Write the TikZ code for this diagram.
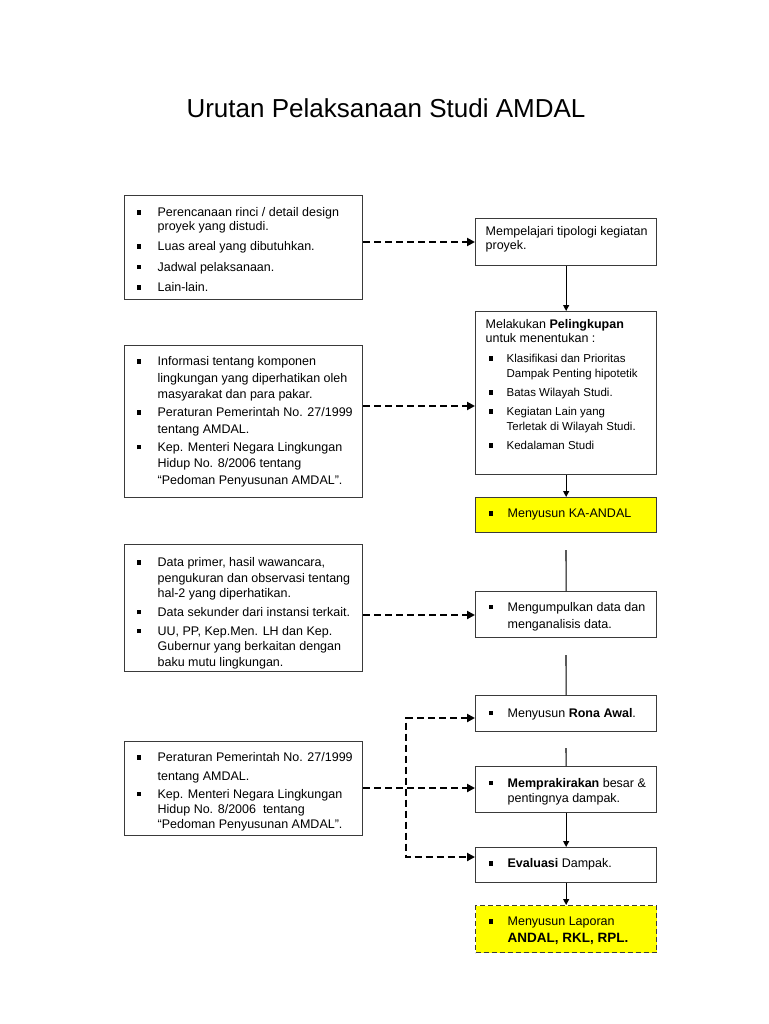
\documentclass[tikz,border=0pt]{standalone}
\usepackage{fontspec}
\setmainfont{Liberation Sans}
\usetikzlibrary{arrows.meta}
\definecolor{boxline}{HTML}{3A3A3A}
\definecolor{ayellow}{HTML}{FFFF00}
\newcommand\bsq{\rule[2pt]{4.5pt}{4.5pt}}
% #1 lead space, #2 hanging indent, #3 text
\newcommand\bitem[3]{\par\hangindent=#2\hangafter=1\noindent\hspace*{#1}\makebox[\dimexpr#2-#1\relax][l]{\rule{0pt}{9.5pt}\bsq}#3}
\newcommand\li[1]{\bitem{0pt}{21pt}{#1}}
\newcommand\ri[1]{\bitem{0pt}{19pt}{#1}}
% #1 width, #2 height, #3 first baseline from top, #4 setup, #5 content
\newcommand\boxtxt[5]{\parbox[c][#2][t]{#1}{\raggedright\parskip=0pt#4\vspace*{\dimexpr#3-9.5pt-\parskip\relax}#5}}
\tikzset{
  box/.style={draw=boxline, line width=1.3pt, fill=white, inner sep=0pt, anchor=north west},
  ybox/.style={box, fill=ayellow},
  dasharrow/.style={line width=2.4pt, dash pattern=on 7pt off 4pt, -{Triangle[length=8pt,width=8pt]}},
  solidarrow/.style={line width=1.1pt, -{Triangle[length=6pt,width=6pt]}},
  solidline/.style={line width=1.1pt},
}
\begin{document}
\begin{tikzpicture}[x=1pt,y=-1pt]
\useasboundingbox[fill=white] (0,0) rectangle (768,1024);

\node[anchor=base, font=\fontsize{26}{30}\selectfont] (title) at (386,118) {Urutan Pelaksanaan Studi AMDAL};

% left boxes
\node[box] (L1) at (124,195) {\boxtxt{238pt}{104pt}{21pt}{\fontsize{12.5}{13.5}\selectfont\parskip=7pt\leftskip=12pt}{%
\li{Perencanaan rinci / detail design\break proyek yang distudi.}
\li{Luas areal yang dibutuhkan.}
\li{Jadwal pelaksanaan.}
\li{Lain-lain.}}};

\node[box] (L2) at (124,345) {\boxtxt{238pt}{152pt}{20.3pt}{\fontsize{12.5}{16.5}\selectfont\parskip=1.5pt\leftskip=12pt}{%
\li{Informasi tentang komponen\break lingkungan yang diperhatikan oleh\break masyarakat dan para pakar.}
\li{Peraturan Pemerintah No. 27/1999\break tentang AMDAL.}
\li{Kep. Menteri Negara Lingkungan\break Hidup No. 8/2006 tentang\break ``Pedoman Penyusunan AMDAL''.}}};

\node[box] (L3) at (124,544) {\boxtxt{238pt}{127pt}{22pt}{\fontsize{12.5}{15.6}\selectfont\parskip=3pt\leftskip=12pt}{%
\li{Data primer, hasil wawancara,\break pengukuran dan observasi tentang\break hal-2 yang diperhatikan.}
\li{Data sekunder dari instansi terkait.}
\li{UU, PP, Kep.Men. LH dan Kep.\break Gubernur yang berkaitan dengan\break baku mutu lingkungan.}}};

\node[box] (L4) at (124,741) {\boxtxt{238pt}{94pt}{20pt}{\fontsize{12.5}{15}\selectfont\parskip=3pt\leftskip=12pt}{%
\li{Peraturan Pemerintah No. 27/1999\break tentang AMDAL.\baselineskip=18.5pt}
\li{Kep. Menteri Negara Lingkungan\break Hidup No. 8/2006\ \ tentang\break ``Pedoman Penyusunan AMDAL''.\baselineskip=15pt}}};

% right boxes
\node[box] (R1) at (475,218) {\boxtxt{181pt}{47pt}{17pt}{\fontsize{12.5}{13.5}\selectfont\leftskip=10pt}{%
\rule{0pt}{9.5pt}Mempelajari tipologi kegiatan\break proyek.}};

\node[box] (R2) at (475,311) {\boxtxt{181pt}{163pt}{17pt}{\fontsize{12.5}{14}\selectfont\leftskip=10pt}{%
\rule{0pt}{9.5pt}Melakukan \textbf{Pelingkupan}\break untuk menentukan :\par
\vspace{1pt}\fontsize{11.5}{15}\selectfont\parskip=4pt
\bitem{3pt}{21pt}{Klasifikasi dan Prioritas\break Dampak Penting hipotetik}
\bitem{3pt}{21pt}{Batas Wilayah Studi.}
\bitem{3pt}{21pt}{Kegiatan Lain yang\break Terletak di Wilayah Studi.}
\bitem{3pt}{21pt}{Kedalaman Studi}}};

\node[ybox] (R3) at (475,497) {\boxtxt{181pt}{35pt}{20pt}{\fontsize{12.5}{15}\selectfont\leftskip=13pt}{%
\ri{Menyusun KA-ANDAL}}};

\node[box] (R4) at (475,591) {\boxtxt{181pt}{46pt}{19.5pt}{\fontsize{12.5}{17}\selectfont\leftskip=13pt}{%
\ri{Mengumpulkan data dan\break menganalisis data.}}};

\node[box] (R5) at (475,695) {\boxtxt{181pt}{36pt}{21.5pt}{\fontsize{12.5}{15}\selectfont\leftskip=13pt}{%
\ri{Menyusun \textbf{Rona Awal}.}}};

\node[box] (R6) at (475,766) {\boxtxt{181pt}{46pt}{20.5pt}{\fontsize{12.5}{15}\selectfont\leftskip=13pt}{%
\ri{\textbf{Memprakirakan} besar \&\break pentingnya dampak.}}};

\node[box] (R7) at (475,847) {\boxtxt{181pt}{35pt}{20pt}{\fontsize{12.5}{15}\selectfont\leftskip=13pt}{%
\ri{\textbf{Evaluasi} Dampak.}}};

\node[ybox, dash pattern=on 5pt off 3pt] (R8) at (475,905) {\boxtxt{181pt}{47pt}{20pt}{\fontsize{12.5}{17}\selectfont\leftskip=13pt}{%
\ri{Menyusun Laporan\break {\fontsize{13.5}{17}\selectfont\textbf{ANDAL, RKL, RPL.}}}}};

% solid connectors on the right
\coordinate (c1) at (566,550);
\coordinate (c2) at (566,655);
\coordinate (c3) at (566,748);
\draw[solidarrow] (R1.south) -- (R2.north);
\draw[solidarrow] (R2.south) -- (R3.north);
\draw[solidline] (c1) -- (R4.north);
\draw[solidline] (c2) -- (R5.north);
\draw[solidline] (c3) -- (R6.north);
\draw[solidarrow] (R6.south) -- (R7.north);
\draw[solidarrow] (R7.south) -- (R8.north);

% dashed connectors
\coordinate (a1) at (0,242);
\coordinate (a2) at (0,406);
\coordinate (a3) at (0,615);
\coordinate (a4) at (0,788);
\draw[dasharrow] (L1.east |- a1) -- (R1.west |- a1);
\draw[dasharrow] (L2.east |- a2) -- (R2.west |- a2);
\draw[dasharrow] (L3.east |- a3) -- (R4.west |- a3);
\draw[dasharrow] (L4.east |- a4) -- (R6.west |- a4);
\coordinate (b1) at (406,718);
\coordinate (b2) at (406,857);
\draw[dasharrow, {Triangle[length=8pt,width=8pt]}-{Triangle[length=8pt,width=8pt]}] (R5.west |- b1) -- (b1) -- (b2) -- (R7.west |- b2);
\end{tikzpicture}
\end{document}
